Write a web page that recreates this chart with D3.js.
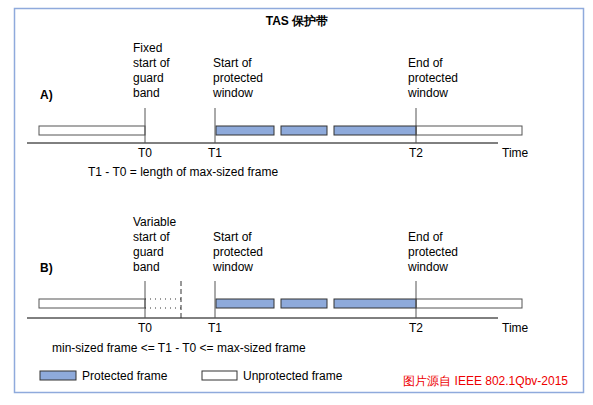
<!DOCTYPE html><html><head><meta charset="utf-8"><script src="https://cdn.jsdelivr.net/npm/d3@7"></script>
<style>body{margin:0;background:#fff}text{font-family:Arial,"Liberation Sans",sans-serif;font-size:12px;fill:#000}</style></head><body>
<script>
const title="TAS 保护带";
const markerNames=["T0","T1","T2"];
const markersA=[145,215,416];
const markersB=[145,215,416];
const variableEndB=181;
const protectedFrames=[[216,274],[281,327],[334,416]];
const unprotectedFrames=[[39,145],[416,522]];
const legendItems=["Protected frame","Unprotected frame"];
const W=593,H=405;
const svg=d3.select("body").append("svg").attr("width",W).attr("height",H);
const x=d3.scaleLinear().domain([0,593]).range([0,593]);
svg.append("rect").attr("x",14.5).attr("y",8.5).attr("width",569).attr("height",384).attr("fill","#fff").attr("stroke","#8faadc").attr("stroke-width",1.5);
svg.append("text").attr("x",297).attr("y",25).attr("text-anchor","middle").attr("font-weight","bold").text(title);
function lines(g,arr,x0,y){arr.forEach((t,i)=>g.append("text").attr("x",x0).attr("y",y+i*15).text(t));}
function panel(yBar,yAxis,markers,label,variable){
  const g=svg.append("g");
  g.append("line").attr("x1",27).attr("x2",498).attr("y1",yAxis).attr("y2",yAxis).attr("stroke","#000");
  g.append("text").attr("x",502).attr("y",yAxis+14).text("Time");
  g.append("text").attr("x",40).attr("y",yBar-27).attr("font-weight","bold").text(label);
  unprotectedFrames.forEach(f=>g.append("rect").attr("x",x(f[0])).attr("y",yBar).attr("width",x(f[1])-x(f[0])).attr("height",9).attr("fill","#fff").attr("stroke","#555"));
  protectedFrames.forEach(f=>g.append("rect").attr("x",x(f[0])).attr("y",yBar).attr("width",x(f[1])-x(f[0])).attr("height",9).attr("fill","#8eaadb").attr("stroke","#333"));
  markers.forEach((m,i)=>{g.append("line").attr("x1",x(m)).attr("x2",x(m)).attr("y1",yBar-18).attr("y2",yAxis).attr("stroke","#555");
    g.append("text").attr("x",x(m)).attr("y",yAxis+14).attr("text-anchor","middle").text(markerNames[i]);});
  if(variable){
    g.append("line").attr("x1",x(variable)).attr("x2",x(variable)).attr("y1",yBar-18).attr("y2",yAxis).attr("stroke","#333").attr("stroke-dasharray","5,3");
    [yBar,yBar+9].forEach(yy=>g.append("line").attr("x1",x(markers[0])).attr("x2",x(variable)).attr("y1",yy).attr("y2",yy).attr("stroke","#333").attr("stroke-dasharray","1,4"));
  }
  return g;
}
const gA=panel(126,143,markersA,"A)",null);
lines(gA,["Fixed","start of","guard","band"],133,52);
lines(gA,["Start of","protected","window"],213,67);
lines(gA,["End of","protected","window"],408,67);
gA.append("text").attr("x",88).attr("y",176).text("T1 - T0 = length of max-sized frame");
const gB=panel(299,318,markersB,"B)",variableEndB);
lines(gB,["Variable","start of","guard","band"],133,226);
lines(gB,["Start of","protected","window"],213,241);
lines(gB,["End of","protected","window"],408,241);
gB.append("text").attr("x",52).attr("y",352).text("min-sized frame <= T1 - T0 <= max-sized frame");
svg.append("rect").attr("x",40).attr("y",371).attr("width",36).attr("height",9).attr("fill","#8eaadb").attr("stroke","#333");
svg.append("text").attr("x",82).attr("y",380).text(legendItems[0]);
svg.append("rect").attr("x",202).attr("y",371).attr("width",35).attr("height",9).attr("fill","#fff").attr("stroke","#333");
svg.append("text").attr("x",243).attr("y",380).text(legendItems[1]);
svg.append("text").attr("x",568).attr("y",385).attr("text-anchor","end").style("fill","#e00").text("图片源自 IEEE 802.1Qbv-2015");
</script></body></html>
